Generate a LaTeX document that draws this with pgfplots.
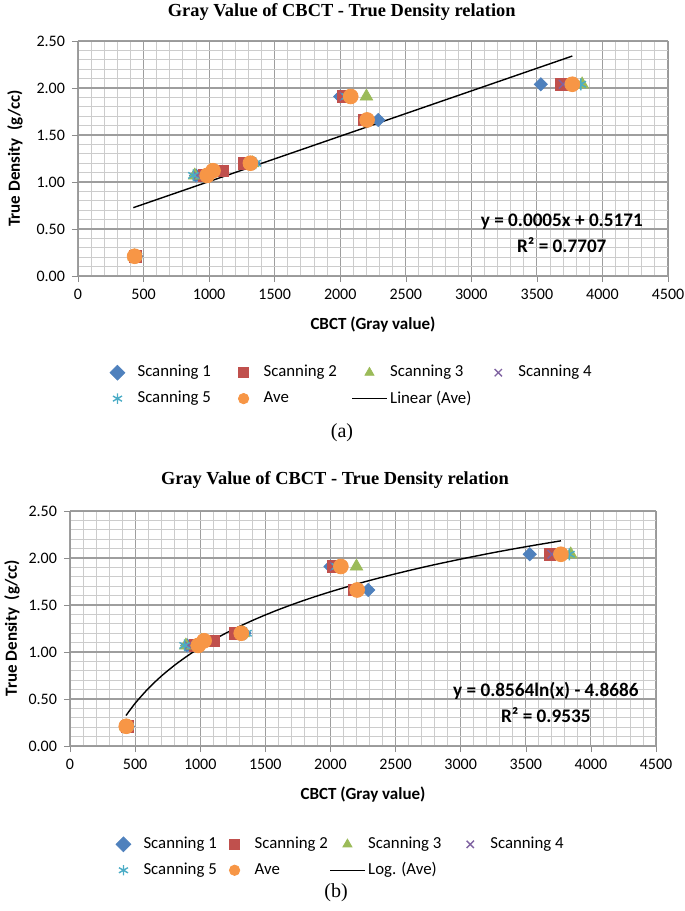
\documentclass[border=0pt]{standalone}
\usepackage{fontspec}
\setmainfont{Carlito}
\newfontfamily\timesfont{Liberation Serif}
\usepackage{pgfplots}
\usepackage{pgfplotstable}
\pgfplotsset{compat=1.18}
\definecolor{s1}{HTML}{4F81BD}
\definecolor{s2}{HTML}{C0504D}
\definecolor{s3}{HTML}{9BBB59}
\definecolor{s4}{HTML}{8064A2}
\definecolor{s5}{HTML}{4BACC6}
\definecolor{ave}{HTML}{F79646}

\pgfplotstableread{
y s1 s2 s3 s4 s5 ave
0.21 445 440 430 428 450 432
1.07 900 960 890 910 880 985
1.12 1040 1100 1010 1030 1020 1030
1.20 1340 1265 1330 1300 1355 1315
1.91 2000 2020 2200 2030 2050 2080
1.66 2290 2185 2200 2210 2195 2205
2.04 3530 3685 3845 3700 3835 3770
}\data

\pgfplotsset{
  every axis title shift=0pt,
  mychart/.style={
    scale only axis, height=117.5pt,
    xmin=0, xmax=4500, ymin=0, ymax=2.5,
    xtick={0,500,...,4500}, ytick={0,0.5,...,2.5},
    minor x tick num=4, minor y tick num=4,
    grid=both,
    major grid style={draw=black!38, line width=0.55pt},
    minor grid style={draw=black!20, line width=0.45pt},
    axis line style={draw=black!40},
    tick style={draw=black!45}, major tick length=3pt, minor tick length=0pt, tick align=outside,
    xtick pos=bottom, ytick pos=left,
    tick label style={font=\fontsize{8}{9}\selectfont},
    /pgf/number format/assume math mode=true,
    x tick label style={/pgf/number format/1000 sep={}},
    y tick label style={/pgf/number format/.cd, fixed, fixed zerofill, precision=2},
    label style={font=\bfseries\fontsize{8.5}{10}\selectfont},
    xlabel={CBCT (Gray value)}, ylabel={True Density\ \ (g/cc)},
    title={Gray Value of CBCT - True Density relation},
    title style={font=\timesfont\bfseries\fontsize{9.2}{11}\selectfont, anchor=center},
    legend columns=4,
    legend style={draw=none, fill=none, anchor=north west, font=\fontsize{8.4}{10}\selectfont,
      inner sep=0pt, nodes={inner sep=1.5pt},
      /tikz/every even column/.append style={column sep=0pt}, row sep=2.5pt},
  },
  mleg/.style={legend image code/.code={%
      \path[draw=none, fill=none] (0cm,-0.1cm) (0.6cm,0.1cm);
      \draw[mark repeat=2,mark phase=2,##1, mark size=2.6pt] plot coordinates {(0cm,0cm) (0.3cm,0cm) (0.6cm,0cm)};}},
  sc1/.style={only marks, mark=square*, mark size=2.3pt, mark options={rotate=45, fill=s1, draw=s1}, mleg},
  sc2/.style={only marks, mark=square*, mark size=2.9pt, mark options={fill=s2, draw=s2}, mleg},
  sc3/.style={only marks, mark=triangle*, mark size=3.6pt, mark options={fill=s3, draw=s3}, mleg},
  sc4/.style={only marks, mark=x, mark size=3pt, mark options={draw=s4, line width=0.7pt}, mleg},
  sc5/.style={only marks, mark=asterisk, mark size=3pt, mark options={draw=s5, line width=0.7pt}, mleg},
  sca/.style={only marks, mark=*, mark size=3.7pt, mark options={fill=ave, draw=ave}, mleg},
}

\begin{document}
\begin{tikzpicture}
\useasboundingbox (0,0) rectangle (342.5pt,-455.5pt);
% ---------- (a) ----------
\begin{axis}[mychart, width=295pt, at={(39pt,-138pt)}, anchor=south west,
  xlabel style={at={(axis description cs:0.5,-0.2085)}, anchor=center},
  ylabel style={at={(axis description cs:-0.1068,0.5)}, anchor=center},
  title style={at={(axis description cs:0.447,1.123)}},
  legend style={at={(axis description cs:0.0373,-0.366)}}]
\addplot[sc1] table[x=s1,y=y]{\data}; \addlegendentry{\makebox[43pt][l]{Scanning 1}}
\addplot[sc2] table[x=s2,y=y]{\data}; \addlegendentry{\makebox[42.5pt][l]{Scanning 2}}
\addplot[sc3] table[x=s3,y=y]{\data}; \addlegendentry{\makebox[44pt][l]{Scanning 3}}
\addplot[sc4] table[x=s4,y=y]{\data}; \addlegendentry{\makebox[42pt][l]{Scanning 4}}
\addplot[sc5] table[x=s5,y=y]{\data}; \addlegendentry{\makebox[43pt][l]{Scanning 5}}
\addplot[sca] table[x=ave,y=y]{\data}; \addlegendentry{\makebox[42.5pt][l]{Ave}}
\addplot[black, line width=0.7pt, no marks] coordinates {(422,0.727) (3770,2.34)}; \addlegendentry{\makebox[44pt][l]{Linear (Ave)}}
\node[font=\bfseries\fontsize{9.6}{11}\selectfont] at (axis description cs:0.82,0.23) {y = 0.0005x + 0.5171};
\node[font=\bfseries\fontsize{9.6}{11}\selectfont] at (axis description cs:0.82,0.132) {R² = 0.7707};
\end{axis}
\node[font=\timesfont\fontsize{10}{12}\selectfont] at (171pt,-216.5pt) {(a)};
% ---------- (b) ----------
\begin{axis}[mychart, width=293pt, at={(35pt,-373pt)}, anchor=south west,
  xlabel style={at={(axis description cs:0.5,-0.2085)}, anchor=center},
  ylabel style={at={(axis description cs:-0.099,0.502)}, anchor=center},
  title style={at={(axis description cs:0.452,1.132)}},
  legend style={at={(axis description cs:0.0614,-0.373)}}]
\addplot[sc1] table[x=s1,y=y]{\data}; \addlegendentry{\makebox[35.5pt][l]{Scanning 1}}
\addplot[sc2] table[x=s2,y=y]{\data}; \addlegendentry{\makebox[36pt][l]{Scanning 2}}
\addplot[sc3] table[x=s3,y=y]{\data}; \addlegendentry{\makebox[41pt][l]{Scanning 3}}
\addplot[sc4] table[x=s4,y=y]{\data}; \addlegendentry{\makebox[36pt][l]{Scanning 4}}
\addplot[sc5] table[x=s5,y=y]{\data}; \addlegendentry{\makebox[35.5pt][l]{Scanning 5}}
\addplot[sca] table[x=ave,y=y]{\data}; \addlegendentry{\makebox[36pt][l]{Ave}}
\addplot[black, line width=0.7pt, no marks, smooth] coordinates {
(430,0.324) (500,0.454) (600,0.610) (700,0.742) (800,0.856) (900,0.957) (1000,1.047)
(1200,1.203) (1400,1.335) (1600,1.450) (1800,1.551) (2000,1.641) (2250,1.742)
(2500,1.832) (2750,1.914) (3000,1.988) (3250,2.057) (3500,2.120) (3770,2.183)};
\addlegendentry{\makebox[41pt][l]{Log. (Ave)}}
\node[font=\bfseries\fontsize{9.6}{11}\selectfont] at (axis description cs:0.812,0.234) {y = 0.8564ln(x) - 4.8686};
\node[font=\bfseries\fontsize{9.6}{11}\selectfont] at (axis description cs:0.812,0.132) {R² = 0.9535};
\end{axis}
\node[font=\timesfont\fontsize{10}{12}\selectfont] at (168pt,-446.5pt) {(b)};
\end{tikzpicture}
\end{document}
